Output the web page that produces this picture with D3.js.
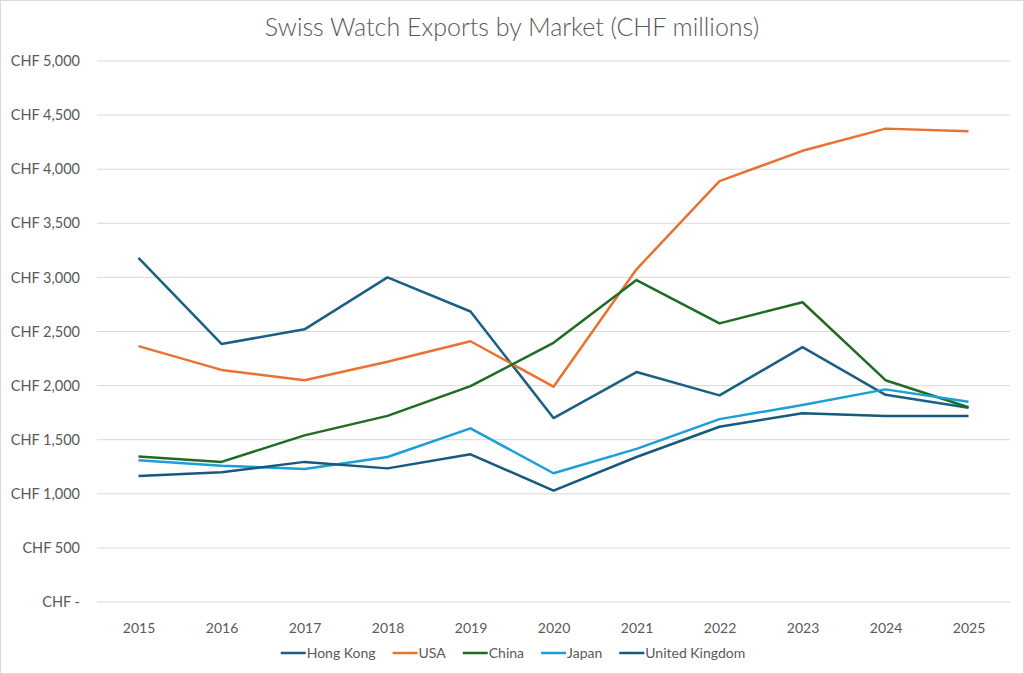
<!DOCTYPE html>
<html>
<head>
<meta charset="utf-8">
<script src="https://cdn.jsdelivr.net/npm/d3@7"></script>
<style>
  body { margin: 0; background: #fff; }
  svg { display: block; font-family: Lato, "Open Sans", sans-serif; }
</style>
</head>
<body>
<svg id="chart" width="1024" height="674"></svg>
<script>
// years on the x axis
const years = ["2015", "2016", "2017", "2018", "2019", "2020", "2021", "2022", "2023", "2024", "2025"];

// series values, CHF millions
const hongKong = [3180, 2385, 2520, 3000, 2685, 1700, 2125, 1910, 2355, 1915, 1795];
const usa      = [2365, 2145, 2050, 2220, 2410, 1990, 3075, 3890, 4170, 4375, 4350];
const china    = [1345, 1295, 1540, 1720, 1995, 2395, 2975, 2575, 2770, 2050, 1800];
const japan    = [1310, 1260, 1230, 1340, 1605, 1190, 1415, 1690, 1820, 1965, 1850];
const uk       = [1165, 1200, 1295, 1235, 1365, 1030, 1340, 1620, 1745, 1720, 1720];

const seriesNames = ["Hong Kong", "USA", "China", "Japan", "United Kingdom"];
const seriesValues = [hongKong, usa, china, japan, uk];
const colors = ["#1a5f84", "#e97132", "#1e6b24", "#1a9fd8", "#155a7c"];

const yTicks = [0, 500, 1000, 1500, 2000, 2500, 3000, 3500, 4000, 4500, 5000];

const svg = d3.select("#chart");
const W = 1024, H = 674;

// chart border
svg.append("rect")
    .attr("x", 0.5).attr("y", 0.5)
    .attr("width", W - 1).attr("height", H - 1)
    .attr("fill", "#fff").attr("stroke", "#d9d9d9");

// title
svg.append("text")
    .attr("x", 512).attr("y", 36)
    .attr("text-anchor", "middle")
    .attr("font-size", 25)
    .attr("font-weight", 300)
    .attr("fill", "#595959")
    .text("Swiss Watch Exports by Market (CHF millions)");

const x = d3.scalePoint().domain(years).range([97, 1010]).padding(0.5);
const y = d3.scaleLinear().domain([0, 5000]).range([602, 61]);

// gridlines
svg.append("g")
    .selectAll("line")
    .data(yTicks)
    .join("line")
    .attr("x1", 97).attr("x2", 1010)
    .attr("y1", d => y(d)).attr("y2", d => y(d))
    .attr("stroke", "#d9d9d9").attr("stroke-width", 1);

// y axis labels
const fmt = d3.format(",");
const yAxis = d3.axisLeft(y).tickValues(yTicks).tickSize(0).tickPadding(0)
    .tickFormat(d => d === 0 ? "CHF -" : "CHF " + fmt(d));
svg.append("g")
    .attr("transform", "translate(80,0)")
    .call(yAxis)
    .call(g => g.select(".domain").remove())
    .call(g => g.selectAll("text")
        .attr("font-family", "Lato, 'Open Sans', sans-serif")
        .attr("font-size", 14.5).attr("fill", "#595959"));

// x axis labels
const xAxis = d3.axisBottom(x).tickSize(0).tickPadding(14);
svg.append("g")
    .attr("transform", "translate(0,609)")
    .call(xAxis)
    .call(g => g.select(".domain").remove())
    .call(g => g.selectAll("text")
        .attr("font-family", "Lato, 'Open Sans', sans-serif")
        .attr("font-size", 14).attr("fill", "#595959"));

// lines
const line = d3.line()
    .x((d, i) => x(years[i]))
    .y(d => y(d));

svg.append("g")
    .selectAll("path")
    .data(seriesValues)
    .join("path")
    .attr("d", d => line(d))
    .attr("fill", "none")
    .attr("stroke", (d, i) => colors[i])
    .attr("stroke-width", 2.5)
    .attr("stroke-linejoin", "round");

// legend
const legend = svg.append("g");
const legendY = 653;
let lx = 0;
seriesNames.forEach((name, i) => {
    const g = legend.append("g").attr("transform", `translate(${lx},0)`);
    g.append("line")
        .attr("x1", 0).attr("x2", 25)
        .attr("y1", legendY).attr("y2", legendY)
        .attr("stroke", colors[i]).attr("stroke-width", 2.5);
    const t = g.append("text")
        .attr("x", 26).attr("y", legendY + 5)
        .attr("font-size", 14).attr("fill", "#595959")
        .text(name);
    const w = t.node().getComputedTextLength();
    lx += 26 + w + 17;
});
const totalW = lx - 17;
legend.attr("transform", `translate(${(513 - totalW / 2).toFixed(1)},0)`);
</script>
</body>
</html>
